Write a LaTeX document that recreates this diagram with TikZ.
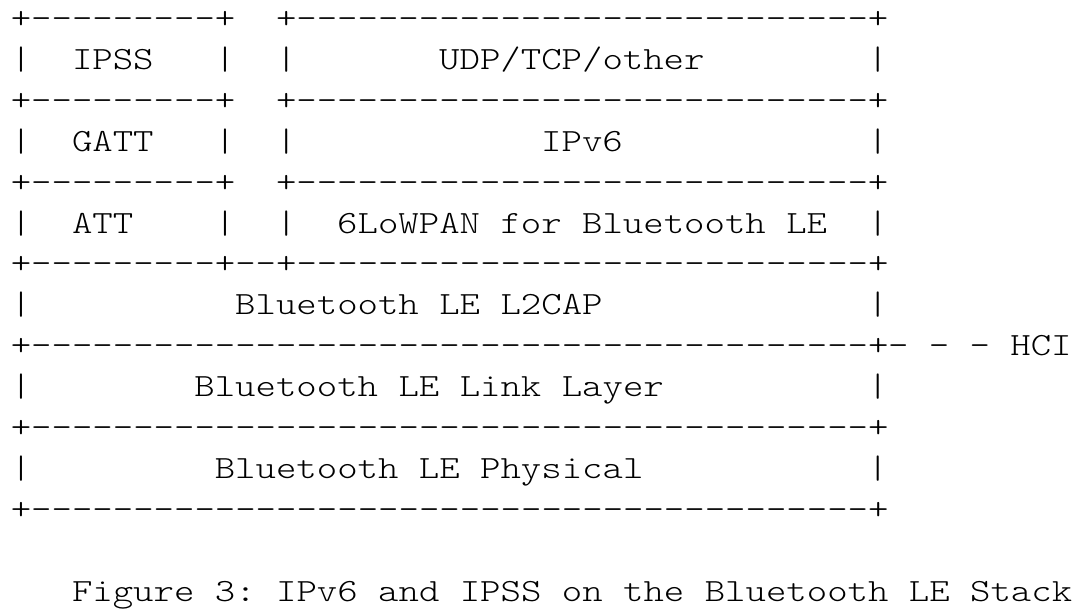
\documentclass[tikz,border=0pt]{standalone}
\usepackage{fontspec}
\setmonofont[FakeStretch=1.2]{Latin Modern Mono Light}
\tikzset{asc/.style={anchor=base west,inner sep=0pt,outer sep=0pt,font=\ttfamily\fontsize{32.4bp}{40.9bp}\selectfont,text=black}}
\newcommand\asc[4]{\node[asc] (#1) at ({10.8+#2*20.4},{614-(28.6+#3*40.9)}) {#4};}
\begin{document}
\begin{tikzpicture}[x=1bp,y=1bp]
\useasboundingbox[fill=white] (0,0) rectangle (1087,614);
% row 0
\asc{a0}{0}{0}{+---------+}
\asc{b0}{13}{0}{+----------------------------+}
% row 1
\asc{a1l}{0}{1}{|}
\asc{ipss}{3}{1}{IPSS}
\asc{a1r}{10}{1}{|}
\asc{b1l}{13}{1}{|}
\asc{udp}{21}{1}{UDP/TCP/other}
\asc{b1r}{42}{1}{|}
% row 2
\asc{a2}{0}{2}{+---------+}
\asc{b2}{13}{2}{+----------------------------+}
% row 3
\asc{a3l}{0}{3}{|}
\asc{gatt}{3}{3}{GATT}
\asc{a3r}{10}{3}{|}
\asc{b3l}{13}{3}{|}
\asc{ipv6}{26}{3}{IPv6}
\asc{b3r}{42}{3}{|}
% row 4
\asc{a4}{0}{4}{+---------+}
\asc{b4}{13}{4}{+----------------------------+}
% row 5
\asc{a5l}{0}{5}{|}
\asc{att}{3}{5}{ATT}
\asc{a5r}{10}{5}{|}
\asc{b5l}{13}{5}{|}
\asc{lowpan}{16}{5}{6LoWPAN for Bluetooth LE}
\asc{b5r}{42}{5}{|}
% row 6
\asc{r6}{0}{6}{+---------+--+----------------------------+}
% row 7
\asc{c7l}{0}{7}{|}
\asc{l2cap}{11}{7}{Bluetooth LE L2CAP}
\asc{c7r}{42}{7}{|}
% row 8
\asc{r8}{0}{8}{+-----------------------------------------+}
\asc{h1}{43}{8}{-}
\asc{h2}{45}{8}{-}
\asc{h3}{47}{8}{-}
\asc{hci}{49}{8}{HCI}
% row 9
\asc{c9l}{0}{9}{|}
\asc{link}{9}{9}{Bluetooth LE Link Layer}
\asc{c9r}{42}{9}{|}
% row 10
\asc{r10}{0}{10}{+-----------------------------------------+}
% row 11
\asc{c11l}{0}{11}{|}
\asc{phy}{10}{11}{Bluetooth LE Physical}
\asc{c11r}{42}{11}{|}
% row 12
\asc{r12}{0}{12}{+-----------------------------------------+}
% caption
\asc{cap}{3}{14}{Figure 3: IPv6 and IPSS on the Bluetooth LE Stack}
\end{tikzpicture}
\end{document}
